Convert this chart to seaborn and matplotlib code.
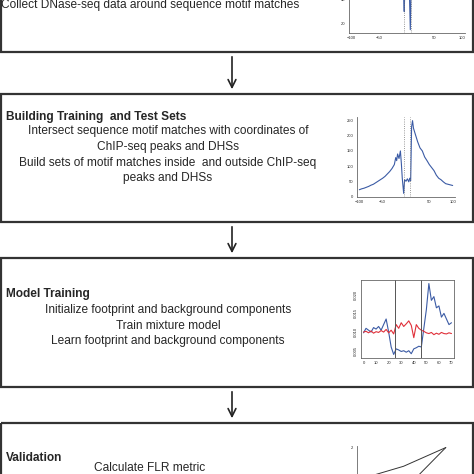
import matplotlib
matplotlib.use("Agg")
import matplotlib.pyplot as plt
import seaborn as sns
import numpy as np
import pandas as pd
from matplotlib.patches import Rectangle, FancyArrowPatch

sns.set_style("white")
plt.rcParams['font.family'] = ['Liberation Sans', 'DejaVu Sans']

# ---- data ----
p1_x = [-100, -90, -80, -70, -60, -50, -40, -30, -20, -12, -8, -5, -3, 0, 3, 6, 8, 12, 20, 40, 60, 80, 100]
p1_y = [60, 62, 63, 65, 64, 66, 67, 66, 68, 70, 66, 30, 65, 68, 70, 15, 66, 68, 66, 64, 63, 62, 61]

p2_x = [-100, -95, -90, -85, -80, -75, -70, -65, -60, -55, -50, -45, -40, -35, -30, -25, -22, -20, -18, -15, -12, -10, -8, -5, -3, 0, 3, 6, 8, 10, 12, 14, 16, 20, 25, 30, 35, 40, 45, 50, 55, 60, 65, 70, 75, 80, 85, 90, 95, 100]
p2_y = [22, 25, 27, 30, 33, 37, 40, 45, 50, 55, 60, 66, 74, 82, 92, 105, 128, 118, 140, 125, 150, 110, 60, 10, 55, 50, 58, 48, 60, 52, 230, 250, 225, 205, 180, 160, 150, 130, 118, 105, 95, 85, 70, 60, 55, 48, 42, 40, 38, 36]

p3_x = [0, 2, 4, 6, 8, 10, 12, 14, 16, 18, 20, 22, 24, 26, 28, 30, 32, 34, 36, 38, 40, 42, 44, 46, 48, 50, 52, 54, 56, 58, 60, 62, 64, 66, 68, 70]
p3_blue = [0.0098, 0.0110, 0.0105, 0.0100, 0.0112, 0.0108, 0.0115, 0.0105, 0.0120, 0.0135, 0.0100, 0.0060, 0.0040, 0.0055, 0.0052, 0.0048, 0.0050, 0.0046, 0.0050, 0.0042, 0.0055, 0.0058, 0.0062, 0.0060, 0.0110, 0.0160, 0.0230, 0.0185, 0.0195, 0.0165, 0.0170, 0.0140, 0.0150, 0.0135, 0.0120, 0.0125]
p3_red = [0.0100, 0.0102, 0.0098, 0.0103, 0.0097, 0.0101, 0.0099, 0.0104, 0.0100, 0.0107, 0.0098, 0.0105, 0.0095, 0.0120, 0.0110, 0.0125, 0.0115, 0.0122, 0.0130, 0.0118, 0.0085, 0.0120, 0.0110, 0.0105, 0.0102, 0.0098, 0.0096, 0.0099, 0.0093, 0.0097, 0.0094, 0.0099, 0.0096, 0.0095, 0.0098, 0.0096]

p4_x = [0.0, 0.5, 1.0]
p4_a = [1.0, 1.4, 2.0]
p4_bx = [0.6, 1.0]
p4_b = [0.9, 2.0]

W = H = 474
fig = plt.figure(figsize=(4.74, 4.74), dpi=100)
bg = fig.add_axes([0, 0, 1, 1])
bg.set_xlim(0, W); bg.set_ylim(H, 0); bg.axis("off")

def box(y0, y1):
    bg.add_patch(Rectangle((1, y0), 472, y1 - y0, fill=False, lw=1.6, ec="#333333"))

box(-20, 52); box(94, 222); box(258, 387); box(423, 500)
for ya, yb in [(54, 92), (224, 256), (389, 421)]:
    bg.add_patch(FancyArrowPatch((232, ya), (232, yb), arrowstyle="->", mutation_scale=14, lw=1.2, color="#222222"))

fs = 8.6
bg.text(150, 5, "Collect DNase-seq data around sequence motif matches", ha="center", va="center", fontsize=fs)
bg.text(6, 117, "Building Training  and Test Sets", fontsize=fs, fontweight="bold", va="center")
for y, t in [(131, "Intersect sequence motif matches with coordinates of"), (147, "ChIP-seq peaks and DHSs"),
             (163, "Build sets of motif matches inside  and outside ChIP-seq"), (178, "peaks and DHSs")]:
    bg.text(168, y, t, ha="center", va="center", fontsize=fs)
bg.text(6, 294, "Model Training", fontsize=fs, fontweight="bold", va="center")
for y, t in [(310, "Initialize footprint and background components"), (326, "Train mixture model"),
             (341, "Learn footprint and background components")]:
    bg.text(168, y, t, ha="center", va="center", fontsize=fs)
bg.text(6, 458, "Validation", fontsize=fs, fontweight="bold", va="center")
bg.text(150, 468, "Calculate FLR metric", ha="center", va="center", fontsize=fs)

def ax_at(x0, y0, x1, y1):
    a = fig.add_axes([x0 / W, 1 - y1 / H, (x1 - x0) / W, (y1 - y0) / H])
    a.tick_params(labelsize=3, length=1.5, pad=1)
    for s in a.spines.values():
        s.set_linewidth(0.6); s.set_color("#666666")
    return a

blue = "#3b5ba5"
a1 = ax_at(349, -40, 465, 33)
sns.lineplot(x=p1_x, y=p1_y, ax=a1, color=blue, lw=0.8)
a1.axvline(-5, ls=":", color="#777777", lw=0.6); a1.axvline(8, ls=":", color="#777777", lw=0.6)
a1.set_xticks([-100, -50, 50, 100]); a1.set_yticks([20, 40])
a1.spines["top"].set_visible(False); a1.spines["right"].set_visible(False)
a1.set_xlim(-105, 105)

a2 = ax_at(357, 117, 455, 197)
sns.lineplot(x=p2_x, y=p2_y, ax=a2, color=blue, lw=0.8)
a2.axvline(-5, ls=":", color="#777777", lw=0.6); a2.axvline(8, ls=":", color="#777777", lw=0.6)
a2.set_xticks([-100, -50, 50, 100]); a2.set_yticks([0, 50, 100, 150, 200, 250])
a2.spines["top"].set_visible(False); a2.spines["right"].set_visible(False)
a2.set_xlim(-105, 105)

a3 = ax_at(361, 280, 454, 358)
sns.lineplot(x=p3_x, y=p3_blue, ax=a3, color=blue, lw=0.8)
sns.lineplot(x=p3_x, y=p3_red, ax=a3, color="#e0303a", lw=0.8)
a3.axvline(25, color="#555555", lw=0.7); a3.axvline(46, color="#555555", lw=0.7)
a3.set_xticks(range(0, 71, 10)); a3.set_yticks([0.005, 0.010, 0.015, 0.020])
a3.set_yticklabels(["0.005", "0.010", "0.015", "0.020"], rotation=90, va="center")
a3.set_xlim(-2, 72)

a4 = ax_at(357, 446, 450, 510)
sns.lineplot(x=p4_x, y=p4_a, ax=a4, color="#333333", lw=0.7)
sns.lineplot(x=p4_bx, y=p4_b, ax=a4, color="#333333", lw=0.7)
a4.set_ylim(0, 2.05); a4.set_yticks([1, 2]); a4.set_xticks([])
a4.spines["top"].set_visible(False); a4.spines["right"].set_visible(False)

fig.savefig("out.png", dpi=100)
